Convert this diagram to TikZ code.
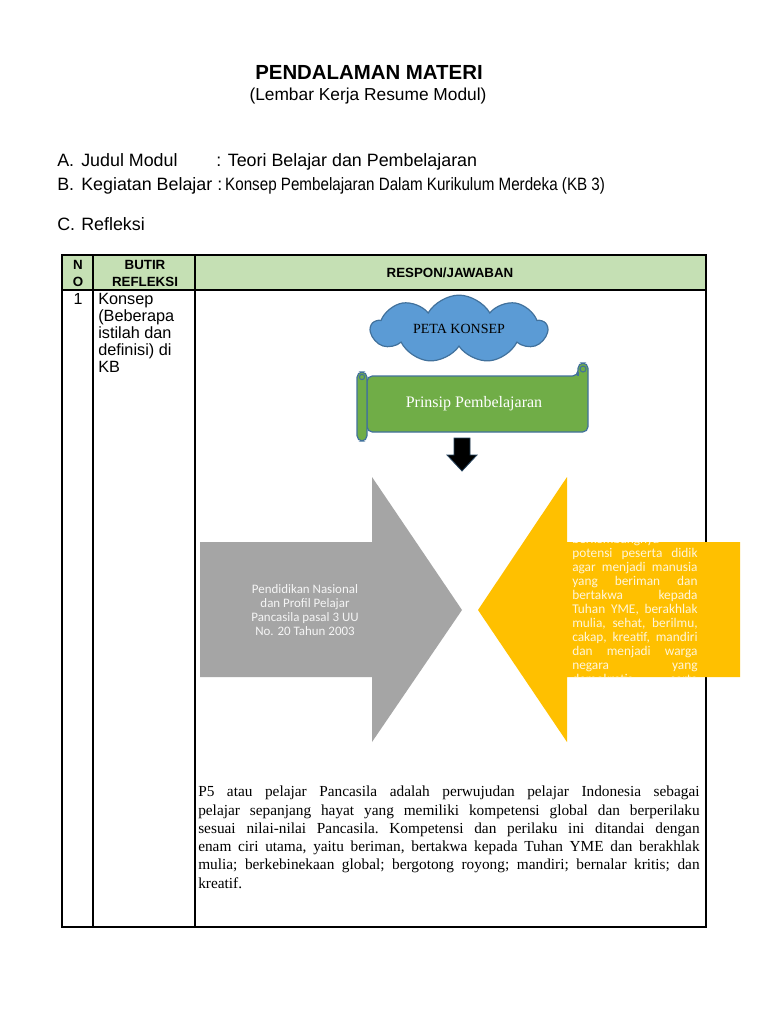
\documentclass[tikz,border=0pt]{standalone}
\usepackage{fontspec}
\setmainfont{Liberation Sans}
\newfontfamily\narrowsans[FakeStretch=0.85]{Liberation Sans}
\newfontfamily\calfont{Carlito}
\newfontfamily\camfont{Liberation Serif}
\usetikzlibrary{shapes.symbols}
\definecolor{hdrgreen}{HTML}{C5E0B4}
\definecolor{scrollgreen}{HTML}{70AD47}
\definecolor{shapeborder}{HTML}{41719C}
\definecolor{cloudblue}{HTML}{5B9BD5}
\definecolor{arrowgrey}{HTML}{A5A5A5}
\definecolor{arrowyellow}{HTML}{FFC000}
\definecolor{paletext}{HTML}{FFF6DA}
\tikzset{
  doc/.style={inner sep=0pt, anchor=base west, font=\fontsize{13.4}{15}\selectfont},
  hdr/.style={inner sep=0pt, font=\bfseries\fontsize{10}{12.75}\selectfont, align=center},
  grid/.style={draw=black, line width=0.8pt},
  scrollpart/.style={fill=scrollgreen, draw=shapeborder, line width=0.9pt},
}
\begin{document}
\begin{tikzpicture}[x=0.75pt,y=0.75pt]
\useasboundingbox (0,0) rectangle (768,-1024);
\fill[white] (0,0) rectangle (768,-1024);

% Title
\node[inner sep=0pt, font=\bfseries\fontsize{15.3}{17}\selectfont] (title) at (369,-72) {PENDALAMAN MATERI};
\node[inner sep=0pt, font=\fontsize{13}{15}\selectfont] (subtitle) at (368,-96) {(Lembar Kerja Resume Modul)};

% Items
\node[doc] (a1) at (57,-166) {A.};
\node[doc] (a2) at (81,-166) {Judul Modul};
\node[doc] (a3) at (216,-166) {: Teori Belajar dan Pembelajaran};
\node[doc] (b1) at (57,-190) {B.};
\node[doc] (b2) at (81,-190) {Kegiatan Belajar};
\node[doc] (b3) at (217,-190) {:\,{\narrowsans Konsep Pembelajaran Dalam Kurikulum Merdeka (KB 3)}};
\node[doc] (c1) at (57,-230) {C.};
\node[doc] (c2) at (81,-230) {Refleksi};

% Table
\fill[hdrgreen] (62,-255) rectangle (706,-290);
\draw[grid] (62,-255) rectangle (706,-927);
\draw[grid] (62,-290) -- (706,-290);
\draw[grid] (93,-255) -- (93,-927);
\draw[grid] (195,-255) -- (195,-927);

\node[hdr] (hno) at (78,-273) {N\\O};
\node[hdr] (hbutir) at (145,-273) {BUTIR\\REFLEKSI};
\node[hdr] (hresp) at (450,-273) {RESPON/JAWABAN};

\node[inner sep=0pt, anchor=north, font=\fontsize{12}{12.75}\selectfont] (no1) at (78,-293) {1};
\node[inner sep=0pt, anchor=north west, align=left, font=\fontsize{12.2}{12.75}\selectfont] (konsep) at (98,-293) {Konsep\\(Beberapa\\istilah dan\\definisi) di\\KB};

% Cloud
\node[cloud, cloud puffs=9, cloud puff arc=120, aspect=2.9, fill=cloudblue, draw=shapeborder, line width=0.9pt,
      minimum width=132pt, minimum height=45pt, inner sep=0pt,
      font=\camfont\fontsize{10.5}{12}\selectfont] (cloud) at (459,-329) {PETA KONSEP};

% Scroll banner
\path[scrollpart, rounded corners=4pt] (367,-376) -- (578,-376) -- (578,-363) -- (588,-363) -- (588,-432) -- (367,-432) -- cycle;
\draw[shapeborder, line width=0.8pt] (583,-369) circle[radius=3];
\draw[shapeborder, line width=0.8pt] (578,-372) -- (578,-376);
\path[scrollpart, rounded corners=4pt] (357,-372) rectangle (367,-441);
\draw[shapeborder, line width=0.8pt] (362,-377) circle[radius=2.6];
\node[inner sep=0pt, text=white, font=\camfont\fontsize{12}{14}\selectfont] (prinsip) at (474,-404) {Prinsip Pembelajaran};

% Down arrow
\path[fill=black, draw=shapeborder!60!black, line width=0.6pt] (454,-438) -- (470,-438) -- (470,-455) -- (477,-455) -- (462,-471) -- (447,-455) -- (454,-455) -- cycle;

% Grey arrow
\fill[arrowgrey] (200,-542) -- (372,-542) -- (372,-477) -- (462,-610) -- (372,-742) -- (372,-677) -- (200,-677) -- cycle;
\node[inner sep=0pt, align=center, text=white!92!gray, font=\calfont\fontsize{9.7}{10.7}\selectfont] (grey) at (305,-610)
  {Pendidikan Nasional\\dan Profil Pelajar\\Pancasila pasal 3 UU\\No. 20 Tahun 2003};

% Yellow arrow
\fill[arrowyellow] (740,-542) -- (567,-542) -- (567,-477) -- (478,-610) -- (567,-742) -- (567,-677) -- (740,-677) -- cycle;
\begin{scope}
\clip (567,-542) rectangle (740,-677);
\node[inner sep=0pt, anchor=north west, text width=94pt, align=justify, text=paletext,
      font=\calfont\fontsize{10}{10.5}\selectfont] (yellowtext) at (572,-534)
  {berkembangnya\linebreak
   potensi peserta didik\linebreak
   agar menjadi manusia\linebreak
   yang beriman dan\linebreak
   bertakwa kepada\linebreak
   Tuhan YME, berakhlak\linebreak
   mulia, sehat, berilmu,\linebreak
   cakap, kreatif, mandiri\linebreak
   dan menjadi warga\linebreak
   negara yang\linebreak
   demokratis serta\linebreak
   bertanggung jawab};
\end{scope}

% P5 paragraph
\node[inner sep=0pt, anchor=north west, text width=376pt, align=justify,
      font=\camfont\frenchspacing\fontsize{11.5}{13.7}\selectfont] (p5) at (198,-786)
  {P5 atau pelajar Pancasila adalah perwujudan pelajar Indonesia sebagai\linebreak
   pelajar sepanjang hayat yang memiliki kompetensi global dan berperilaku\linebreak
   sesuai nilai-nilai Pancasila. Kompetensi dan perilaku ini ditandai dengan\linebreak
   enam ciri utama, yaitu beriman, bertakwa kepada Tuhan YME dan berakhlak\linebreak
   mulia; berkebinekaan global; bergotong royong; mandiri; bernalar kritis; dan\linebreak
   kreatif.};
\end{tikzpicture}
\end{document}
